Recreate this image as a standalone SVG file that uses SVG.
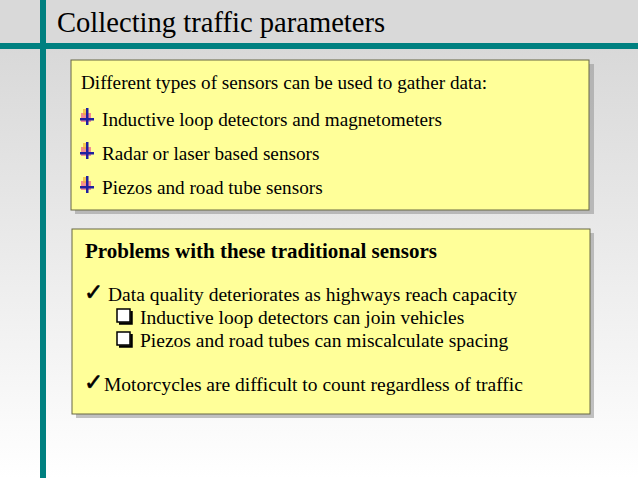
<svg xmlns="http://www.w3.org/2000/svg" width="638" height="478" viewBox="0 0 638 478">
<defs>
<linearGradient id="bg" x1="0" y1="0" x2="0" y2="1"><stop offset="0" stop-color="#d4d4d4"/><stop offset="1" stop-color="#ffffff"/></linearGradient>
<g id="bul"><rect x="0" y="1" width="10" height="9" fill="#f07090" opacity="0.8"/><rect x="2" y="-3" width="5" height="6" fill="#f0b030" opacity="0.7"/><rect x="5" y="-4" width="2.5" height="17" fill="#2020a0"/><rect x="-1" y="6" width="14" height="2.5" fill="#2020a0"/></g>
</defs>
<style>
.t{font-family:"Liberation Serif","Times New Roman",serif;fill:#000}
.box{fill:#ffff99;stroke:#666644;stroke-width:1}
.sh{fill:#999;opacity:0.6}
.tl{fill:#008080}
.ck{font-family:"DejaVu Sans",sans-serif;font-weight:bold;fill:#000;stroke:#000;stroke-width:0.6}
</style>
<rect width="638" height="478" fill="url(#bg)"/>
<rect x="0" y="0" width="638" height="44" fill="#d9d9d9"/>
<rect class="tl" x="40" y="0" width="6" height="478"/>
<rect class="tl" x="0" y="43" width="638" height="6"/>
<text class="t" x="57" y="32" font-size="28.6">Collecting traffic parameters</text>
<g id="box1">
<rect class="sh" x="75" y="64" width="519" height="150"/>
<rect class="box" x="71" y="60" width="518" height="150"/>
<text class="t" x="81" y="89" font-size="19.2">Different types of sensors can be used to gather data:</text>
<use href="#bul" x="81" y="112"/><text class="t" x="102" y="126" font-size="19.2">Inductive loop detectors and magnetometers</text>
<use href="#bul" x="81" y="146"/><text class="t" x="102" y="160" font-size="19.2">Radar or laser based sensors</text>
<use href="#bul" x="81" y="180"/><text class="t" x="102" y="194" font-size="19.2">Piezos and road tube sensors</text>
</g>
<g id="box2">
<rect class="sh" x="76" y="233" width="518" height="185"/>
<rect class="box" x="72" y="229" width="518" height="185"/>
<text class="t" x="85" y="258" font-size="21" font-weight="bold">Problems with these traditional sensors</text>
<text class="ck" x="84" y="300" font-size="23">✓</text>
<text class="t" x="108" y="301" font-size="19.5">Data quality deteriorates as highways reach capacity</text>
<rect x="117" y="309" width="13" height="13" fill="#fff" stroke="#000" stroke-width="1.5"/><path d="M119 323.5h12.5v-12.5" fill="none" stroke="#000" stroke-width="2.5"/>
<text class="t" x="140" y="324" font-size="19.5">Inductive loop detectors can join vehicles</text>
<rect x="117" y="332" width="13" height="13" fill="#fff" stroke="#000" stroke-width="1.5"/><path d="M119 346.5h12.5v-12.5" fill="none" stroke="#000" stroke-width="2.5"/>
<text class="t" x="140" y="347" font-size="19.5">Piezos and road tubes can miscalculate spacing</text>
<text class="ck" x="84" y="390" font-size="23">✓</text>
<text class="t" x="104" y="391" font-size="19.5">Motorcycles are difficult to count regardless of traffic</text>
</g>
</svg>
